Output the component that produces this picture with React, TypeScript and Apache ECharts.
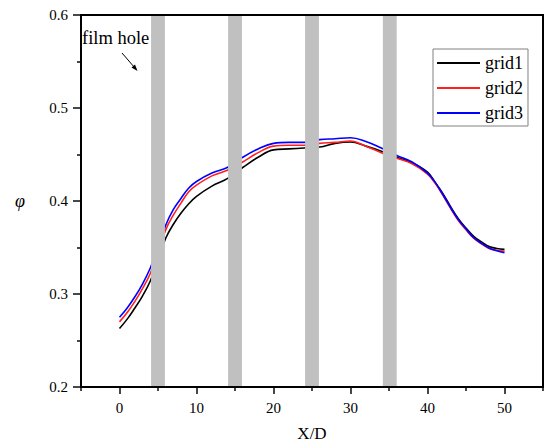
import React, { useEffect, useRef } from "react";
import * as echarts from "echarts";

const xPositions = [0, 1, 2, 3, 4, 5, 6, 7, 8, 9, 10, 12, 14, 16, 18, 20, 22, 24, 26, 28, 30, 32, 34, 36, 38, 40, 41, 42, 43, 44, 45, 46, 47, 48, 49, 50];
const grid1 = [0.263, 0.273, 0.285, 0.298, 0.314, 0.336, 0.36, 0.375, 0.387, 0.397, 0.405, 0.416, 0.424, 0.436, 0.447, 0.455, 0.456, 0.457, 0.458, 0.462, 0.4635, 0.459, 0.4535, 0.447, 0.441, 0.431, 0.42, 0.408, 0.394, 0.381, 0.371, 0.362, 0.356, 0.351, 0.349, 0.348];
const grid2 = [0.27, 0.28, 0.292, 0.306, 0.322, 0.345, 0.369, 0.385, 0.398, 0.41, 0.417, 0.427, 0.433, 0.442, 0.452, 0.459, 0.46, 0.46, 0.462, 0.463, 0.4645, 0.459, 0.452, 0.446, 0.44, 0.429, 0.419, 0.406, 0.392, 0.379, 0.369, 0.36, 0.354, 0.349, 0.347, 0.3462];
const grid3 = [0.275, 0.285, 0.297, 0.311, 0.328, 0.35, 0.374, 0.391, 0.403, 0.414, 0.421, 0.43, 0.436, 0.447, 0.456, 0.462, 0.463, 0.463, 0.466, 0.467, 0.468, 0.464, 0.457, 0.449, 0.442, 0.43, 0.42, 0.407, 0.393, 0.38, 0.37, 0.3605, 0.3545, 0.3495, 0.3465, 0.3445];
const seriesNames = ["grid1", "grid2", "grid3"];
const seriesColors = ["#000000", "#ff2020", "#0000ff"];
const holeStarts = [4.1, 14.1, 24.1, 34.2];
const holeEnds = [5.9, 15.9, 25.9, 36.0];
const xMajorTicks = [0, 10, 20, 30, 40, 50];
const xMinorTicks = [-5, 5, 15, 25, 35, 45, 55];

const FONT = "Liberation Serif";
const AXIS_COLOR = "#0a0a0a";

export default function App() {
  const ref = useRef<HTMLDivElement>(null);
  useEffect(() => {
    if (!ref.current) return;
    const chart = echarts.init(ref.current, null, { renderer: "svg" });
    const allY = [grid1, grid2, grid3];
    const lineSeries = seriesNames.map((name, i) => ({
      name,
      type: "line",
      xAxisIndex: 0,
      yAxisIndex: 0,
      data: xPositions.map((x, j) => [x, allY[i][j]]),
      smooth: 0.4,
      symbol: "none",
      z: 2,
      lineStyle: { color: seriesColors[i], width: 1.6 },
      itemStyle: { color: seriesColors[i] },
    }));
    const holes = holeStarts.map((s, i) => [s, holeEnds[i], 0.2, 0.6]);
    const frame = () => ({ show: true, onZero: false, lineStyle: { color: AXIS_COLOR, width: 2 } });
    const tickStyle = { width: 1.5, color: AXIS_COLOR };
    const option: any = {
      animation: false,
      backgroundColor: "#ffffff",
      grid: {
        left: 81,
        top: 15,
        right: 7,
        bottom: 60,
      },
      legend: {
        data: seriesNames,
        orient: "vertical",
        left: 433,
        top: 49,
        padding: [5, 5, 4, 4],
        itemGap: 7,
        itemWidth: 43,
        itemHeight: 2,
        icon: "rect",
        borderColor: "#808080",
        borderWidth: 1,
        textStyle: { fontFamily: FONT, fontSize: 18, color: "#000" },
      },
      xAxis: [
        {
          type: "value",
          min: -5,
          max: 55,
          interval: 5,
          position: "bottom",
          name: "X/D",
          nameLocation: "middle",
          nameGap: 38,
          nameTextStyle: { fontFamily: FONT, fontSize: 17, color: "#000" },
          axisLine: frame(),
          axisTick: { show: true, length: 7, customValues: xMajorTicks, lineStyle: tickStyle },
          axisLabel: {
            show: true,
            customValues: xMajorTicks,
            margin: 13,
            fontFamily: FONT,
            fontSize: 15,
            color: "#000",
          },
          splitLine: { show: false },
        },
        {
          type: "value",
          min: -5,
          max: 55,
          interval: 5,
          position: "bottom",
          axisLine: { show: false, onZero: false },
          axisTick: { show: true, length: 4, customValues: xMinorTicks, lineStyle: tickStyle },
          axisLabel: { show: false },
          splitLine: { show: false },
        },
        {
          type: "value",
          min: -5,
          max: 55,
          position: "top",
          axisLine: frame(),
          axisTick: { show: false },
          axisLabel: { show: false },
          splitLine: { show: false },
        },
      ],
      yAxis: [
        {
          type: "value",
          min: 0.2,
          max: 0.6,
          interval: 0.1,
          position: "left",
          name: "φ",
          nameLocation: "middle",
          nameGap: 56,
          nameRotate: 0,
          nameTextStyle: { fontFamily: FONT, fontSize: 18, fontStyle: "italic", color: "#000" },
          axisLine: frame(),
          axisTick: { show: true, length: 8, lineStyle: tickStyle },
          minorTick: { show: true, splitNumber: 2, length: 4, lineStyle: tickStyle },
          axisLabel: {
            show: true,
            margin: 13,
            fontFamily: FONT,
            fontSize: 15,
            color: "#000",
            formatter: (v: number) => v.toFixed(1),
          },
          splitLine: { show: false },
        },
        {
          type: "value",
          min: 0.2,
          max: 0.6,
          position: "right",
          axisLine: frame(),
          axisTick: { show: false },
          axisLabel: { show: false },
          splitLine: { show: false },
        },
      ],
      series: [
        ...lineSeries,
        {
          name: "holes",
          type: "custom",
          xAxisIndex: 0,
          yAxisIndex: 0,
          z: 5,
          silent: true,
          data: holes,
          encode: { x: [0, 1], y: [2, 3] },
          renderItem: (params: any, api: any) => {
            const p1 = api.coord([api.value(0), api.value(3)]);
            const p2 = api.coord([api.value(1), api.value(2)]);
            return {
              type: "rect",
              shape: { x: p1[0], y: p1[1], width: p2[0] - p1[0], height: p2[1] - p1[1] },
              style: { fill: "#c0c0c0" },
            };
          },
        },
      ],
      graphic: [
        {
          type: "rect",
          z: 100,
          silent: true,
          shape: { x: 81, y: 15, width: 462, height: 372 },
          style: { fill: "none", stroke: "#000", lineWidth: 1.8 },
        },
        {
          type: "text",
          left: 82,
          top: 28,
          style: { text: "film hole", fontFamily: FONT, fontSize: 18.5, fill: "#000" },
        },
        {
          type: "line",
          shape: { x1: 122, y1: 53, x2: 135, y2: 68 },
          style: { stroke: "#000", lineWidth: 1 },
        },
        {
          type: "polygon",
          shape: { points: [[137.5, 71], [131.5, 67.5], [135, 64.5]] },
          style: { fill: "#000" },
        },
      ],
    };
    chart.setOption(option);
    return () => chart.dispose();
  }, []);
  return (
    <div
      ref={ref}
      style={{ position: "fixed", left: 0, top: 0, width: 550, height: 447, background: "#fff" }}
    />
  );
}
